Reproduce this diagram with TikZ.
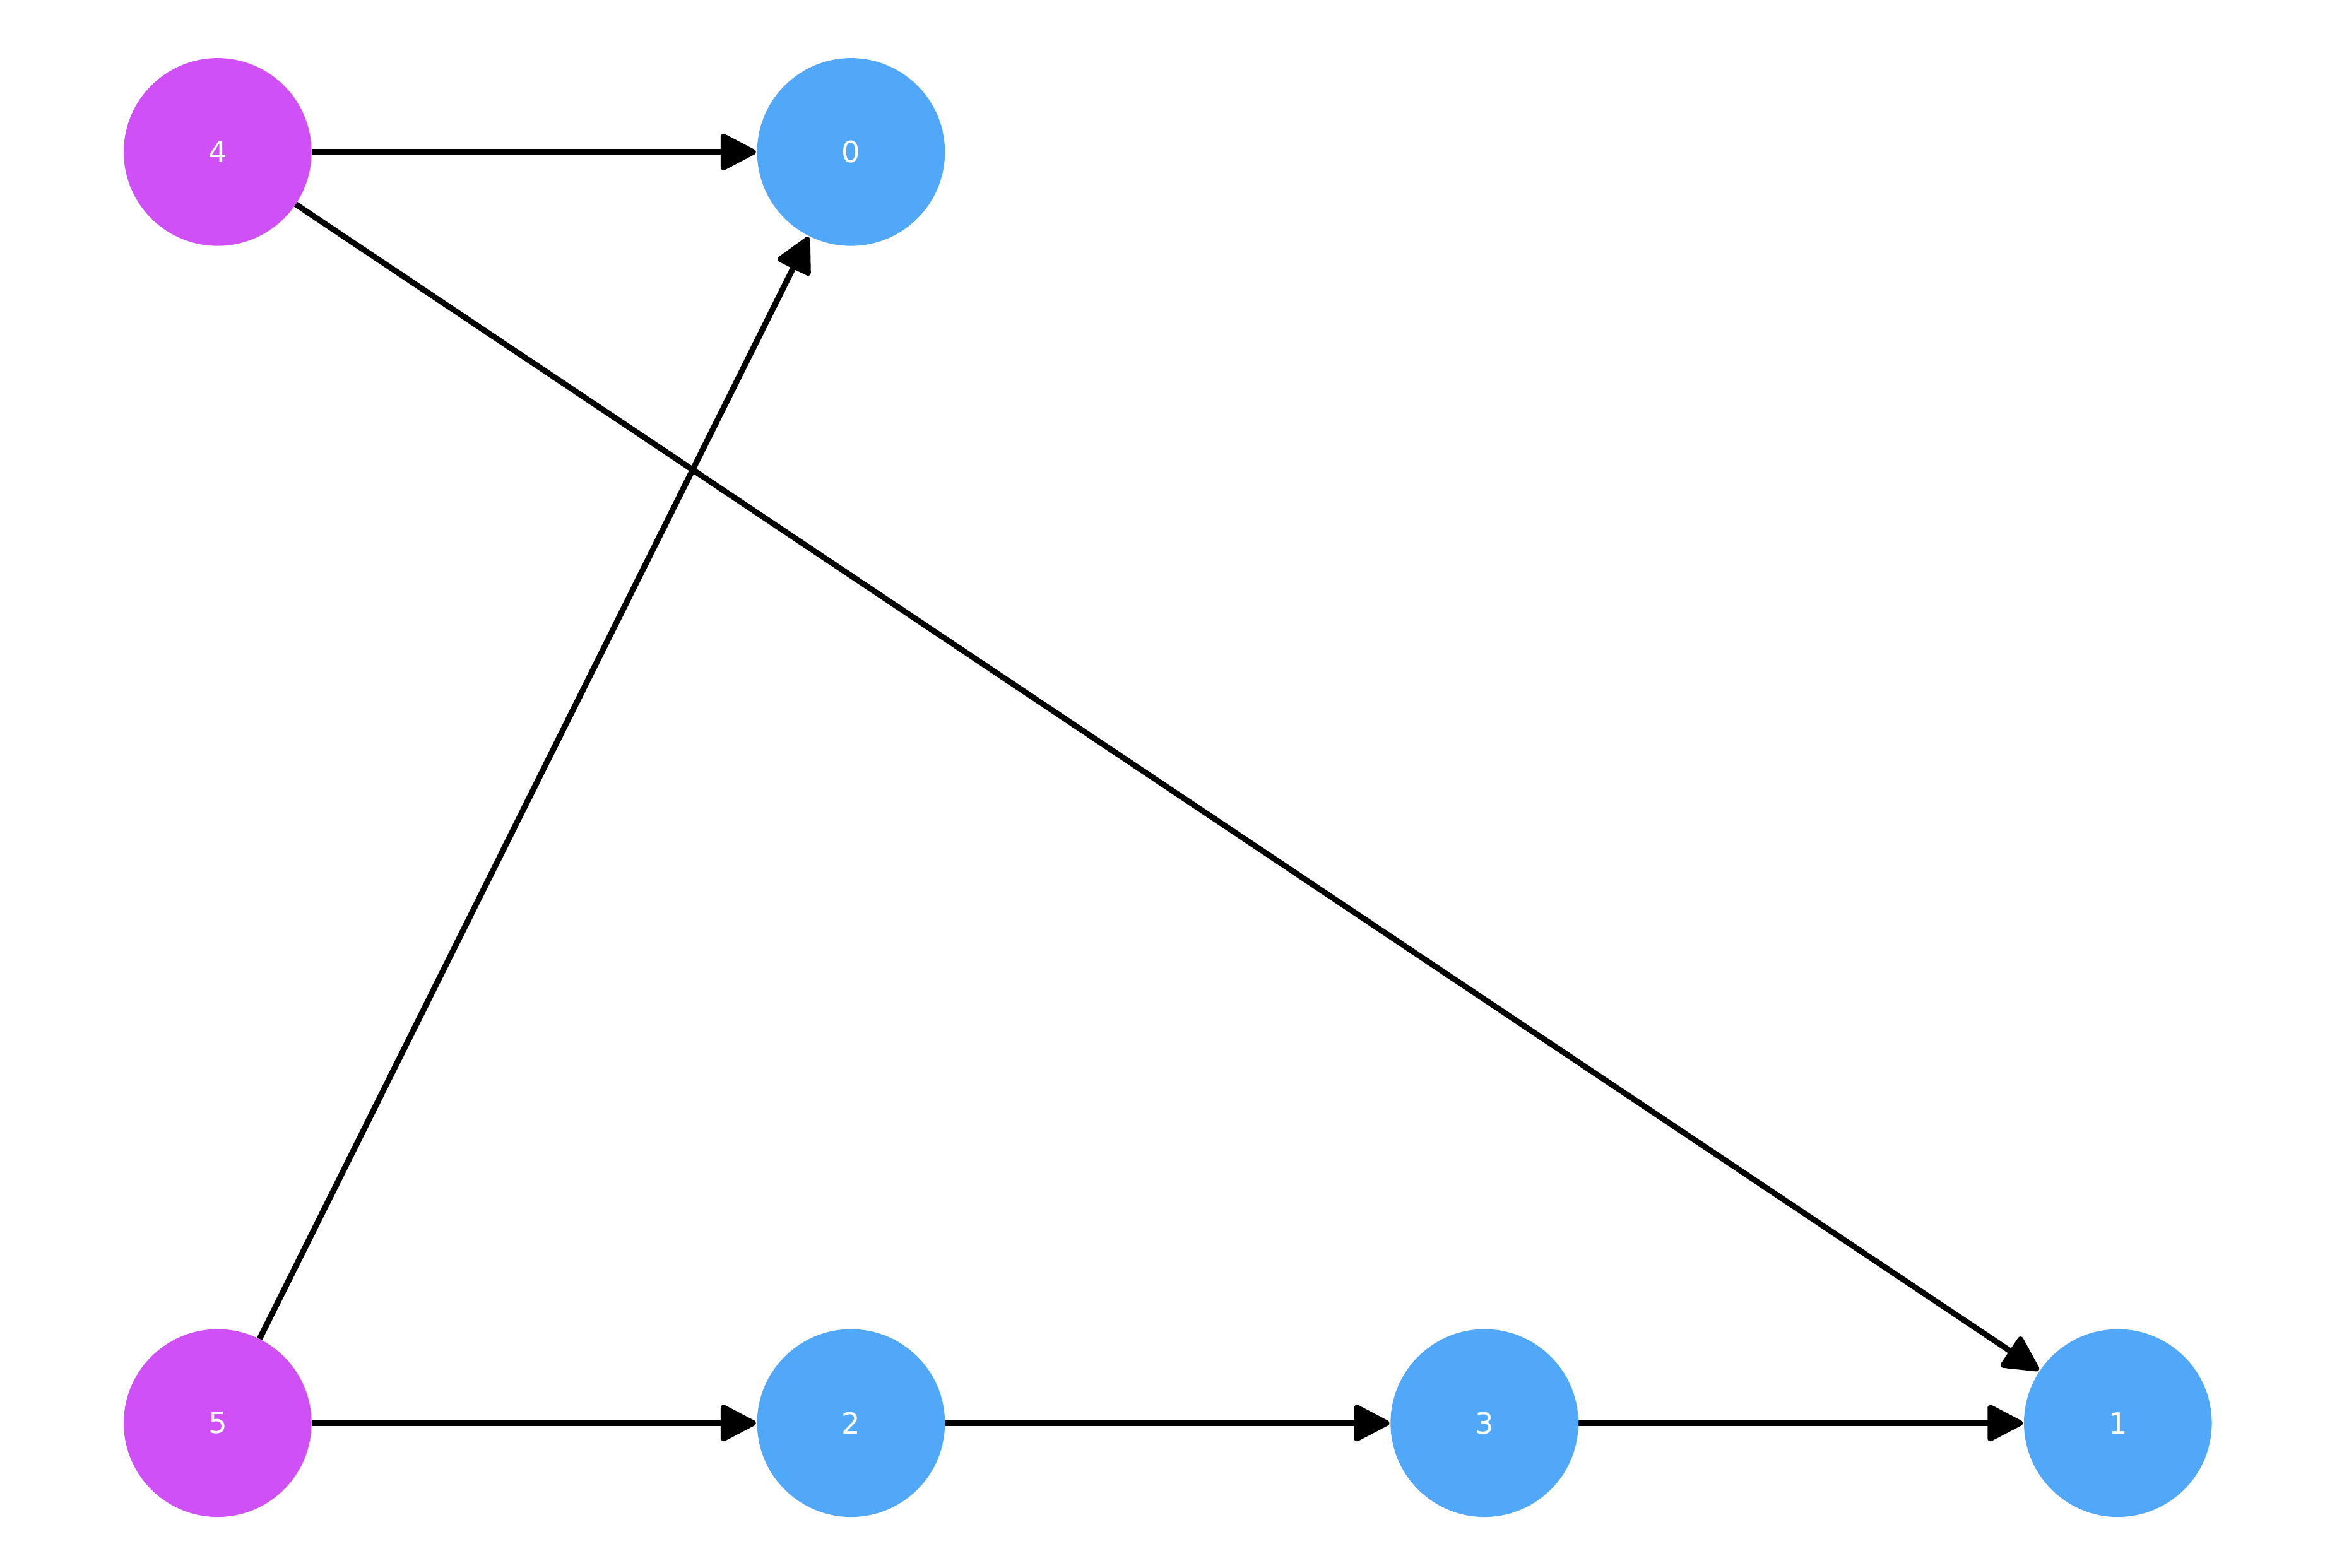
\documentclass[tikz,border=0pt]{standalone}
\usepackage{fontspec}
\setmainfont{DejaVu Sans}
\usetikzlibrary{arrows.meta}
\definecolor{pur}{HTML}{D050F8}
\definecolor{blu}{HTML}{52A8F8}
\begin{document}
\begin{tikzpicture}[x=0.05cm,y=-0.05cm,
  nd/.style={circle,minimum size=6.3cm,inner sep=0pt,text=white,font=\fontsize{28}{30}\selectfont},
  ed/.style={line width=5.5pt,-{Triangle[length=1.3cm,width=1.3cm,round]},shorten >=1pt}]
\useasboundingbox (0,0) rectangle (1560,1052);
\node[nd,fill=pur] (n4) at (146,102) {4};
\node[nd,fill=blu] (n0) at (571,102) {0};
\node[nd,fill=pur] (n5) at (146,955) {5};
\node[nd,fill=blu] (n2) at (571,955) {2};
\node[nd,fill=blu] (n3) at (996,955) {3};
\node[nd,fill=blu] (n1) at (1421,955) {1};
\draw[ed] (n4) -- (n0);
\draw[ed] (n4) -- (n1);
\draw[ed] (n5) -- (n0);
\draw[ed] (n5) -- (n2);
\draw[ed] (n2) -- (n3);
\draw[ed] (n3) -- (n1);
\end{tikzpicture}
\end{document}
